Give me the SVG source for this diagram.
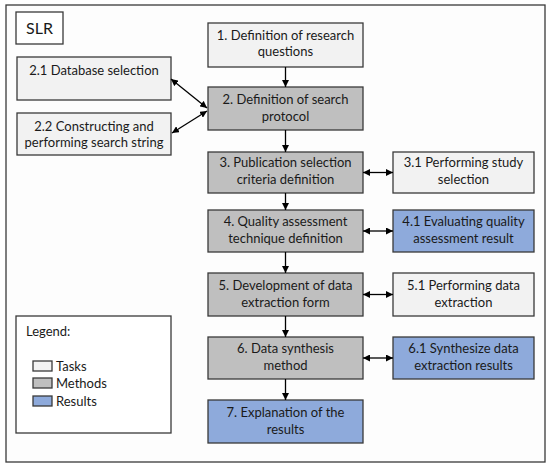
<svg xmlns="http://www.w3.org/2000/svg" width="550" height="466" viewBox="0 0 550 466">
<defs>
<marker id="ah" viewBox="0 0 10 10" refX="10" refY="5" markerWidth="7" markerHeight="7" markerUnits="userSpaceOnUse" orient="auto-start-reverse">
<path d="M0,0 L10,5 L0,10 z" fill="#000"/>
</marker>
<style>
.box{stroke:#3a3a3a;stroke-width:1.3}
.task{fill:#f2f2f2}
.meth{fill:#bfbfbf}
.res{fill:#8eaadb}
text{font-family:Lato,"Liberation Sans",sans-serif;font-size:13px;fill:#1a1a1a}
.c{text-anchor:middle}
.con{stroke:#000;stroke-width:1.3;fill:none}
</style>
</defs>
<rect x="0" y="0" width="550" height="466" fill="#fff"/>
<rect x="6" y="5" width="539" height="457" fill="#fdfdfd" stroke="#3a3a3a" stroke-width="1.3"/>
<g id="slr"><rect class="box" x="16" y="12" width="47" height="32" fill="#fff"/><text x="39.5" y="34" class="c" style="font-size:16px">SLR</text></g>
<g id="n1"><rect class="box task" x="208" y="23" width="155" height="44"/><text x="285.5" y="40" class="c">1. Definition of research</text><text x="285.5" y="56" class="c">questions</text></g>
<g id="n2"><rect class="box meth" x="208" y="87" width="155" height="43"/><text x="285.5" y="104" class="c">2. Definition of search</text><text x="285.5" y="120.5" class="c">protocol</text></g>
<g id="n21"><rect class="box task" x="17" y="57" width="154" height="43"/><text x="94" y="75" class="c">2.1 Database selection</text></g>
<g id="n22"><rect class="box task" x="17" y="113" width="154" height="42"/><text x="94" y="131" class="c">2.2 Constructing and</text><text x="94" y="147" class="c">performing search string</text></g>
<g id="n3"><rect class="box meth" x="208" y="152" width="155" height="41"/><text x="285.5" y="167" class="c">3. Publication selection</text><text x="285.5" y="183.5" class="c">criteria definition</text></g>
<g id="n31"><rect class="box task" x="393" y="152" width="141" height="41"/><text x="463.5" y="167" class="c">3.1 Performing study</text><text x="463.5" y="183.5" class="c">selection</text></g>
<g id="n4"><rect class="box meth" x="208" y="210" width="155" height="42"/><text x="285.5" y="226" class="c">4. Quality assessment</text><text x="285.5" y="242.5" class="c">technique definition</text></g>
<g id="n41"><rect class="box res" x="393" y="210" width="141" height="42"/><text x="463.5" y="226" class="c">4.1 Evaluating quality</text><text x="463.5" y="242.5" class="c">assessment result</text></g>
<g id="n5"><rect class="box meth" x="208" y="273" width="155" height="43"/><text x="285.5" y="290" class="c">5. Development of data</text><text x="285.5" y="306.5" class="c">extraction form</text></g>
<g id="n51"><rect class="box task" x="393" y="273" width="141" height="43"/><text x="463.5" y="290" class="c">5.1 Performing data</text><text x="463.5" y="306.5" class="c">extraction</text></g>
<g id="n6"><rect class="box meth" x="208" y="337" width="155" height="42"/><text x="285.5" y="353" class="c">6. Data synthesis</text><text x="285.5" y="369.5" class="c">method</text></g>
<g id="n61"><rect class="box res" x="393" y="337" width="141" height="42"/><text x="463.5" y="353" class="c">6.1 Synthesize data</text><text x="463.5" y="369.5" class="c">extraction results</text></g>
<g id="n7"><rect class="box res" x="208" y="400" width="155" height="43"/><text x="285.5" y="417" class="c">7. Explanation of the</text><text x="285.5" y="433.5" class="c">results</text></g>
<g id="legend"><rect class="box" x="16" y="316" width="155" height="117" fill="#fff"/><text x="26" y="336">Legend:</text>
<rect class="box task" x="33" y="361" width="19" height="10" stroke-width="1"/><text x="56" y="370.5">Tasks</text>
<rect class="box meth" x="33" y="378" width="19" height="10" stroke-width="1"/><text x="56" y="388">Methods</text>
<rect class="box res" x="33" y="396" width="19" height="10" stroke-width="1"/><text x="56" y="405.5">Results</text></g>
<g id="connectors">
<line class="con" x1="285.5" y1="67" x2="285.5" y2="87" marker-end="url(#ah)"/>
<line class="con" x1="285.5" y1="130" x2="285.5" y2="152" marker-end="url(#ah)"/>
<line class="con" x1="285.5" y1="193" x2="285.5" y2="210" marker-end="url(#ah)"/>
<line class="con" x1="285.5" y1="252" x2="285.5" y2="273" marker-end="url(#ah)"/>
<line class="con" x1="285.5" y1="316" x2="285.5" y2="337" marker-end="url(#ah)"/>
<line class="con" x1="285.5" y1="379" x2="285.5" y2="400" marker-end="url(#ah)"/>
<line class="con" x1="363" y1="172.5" x2="393" y2="172.5" marker-start="url(#ah)" marker-end="url(#ah)"/>
<line class="con" x1="363" y1="231" x2="393" y2="231" marker-start="url(#ah)" marker-end="url(#ah)"/>
<line class="con" x1="363" y1="294.5" x2="393" y2="294.5" marker-start="url(#ah)" marker-end="url(#ah)"/>
<line class="con" x1="363" y1="358" x2="393" y2="358" marker-start="url(#ah)" marker-end="url(#ah)"/>
<line class="con" x1="171" y1="79" x2="207" y2="108" marker-start="url(#ah)" marker-end="url(#ah)"/>
<line class="con" x1="172" y1="133" x2="207" y2="111" marker-start="url(#ah)" marker-end="url(#ah)"/>
</g>
</svg>
